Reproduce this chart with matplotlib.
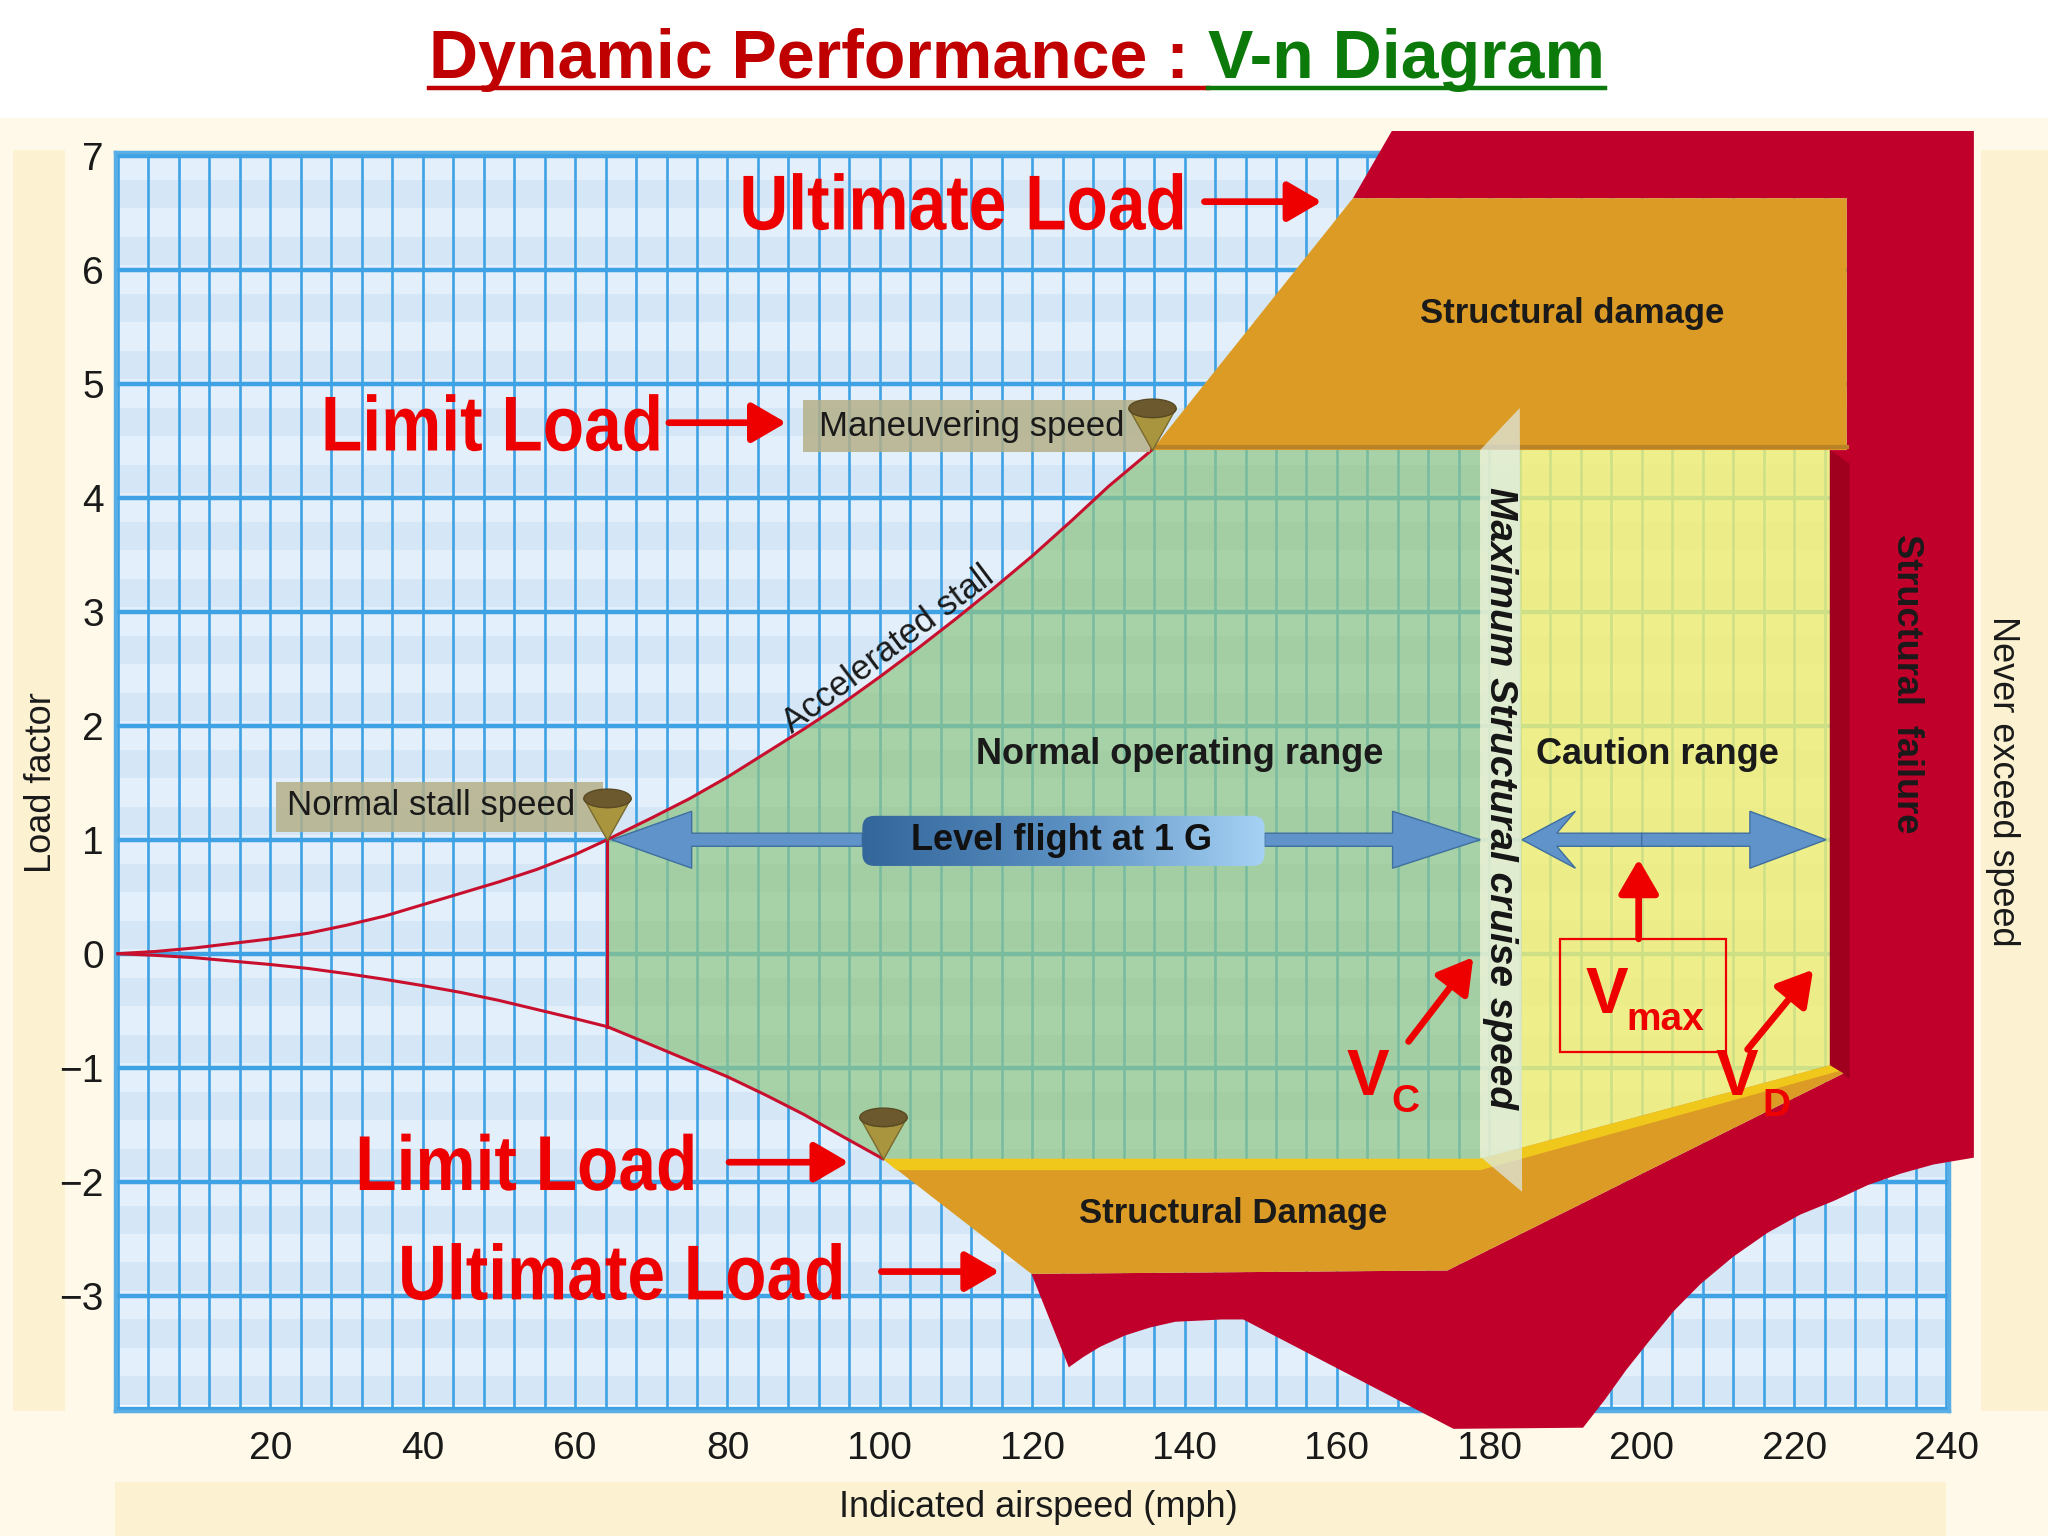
import numpy as np
import matplotlib.pyplot as plt
import matplotlib.transforms as mtransforms
from matplotlib.patches import Polygon, Rectangle, FancyBboxPatch, FancyArrow, PathPatch
from matplotlib.path import Path
from matplotlib.textpath import TextPath
from matplotlib.font_manager import FontProperties
from matplotlib.colors import LinearSegmentedColormap
from matplotlib.lines import Line2D

plt.rcParams['font.family'] = ['Liberation Sans Narrow', 'Liberation Sans', 'DejaVu Sans']

# key speeds (mph) and load factors
v_stall = 64.2      # normal stall speed
v_man = 135.7       # maneuvering speed
v_neg = 100.4       # negative limit corner
v_cruise = 178.8    # max structural cruise speed
v_bar = 184.3
v_ne = 224.7        # never exceed
n_lim_pos = 4.42
n_lim_neg = -1.80
n_ne_neg = -0.98

# stall curves
upper_v = [0, 5, 10, 15, 20, 25, 30, 35, 40, 45, 50, 55, 60, 64.2, 70, 75, 80, 85, 90,
           95, 100, 105, 110, 115, 120, 125, 130, 135.7]
upper_n = [0, 0.02, 0.05, 0.09, 0.13, 0.18, 0.25, 0.33, 0.43, 0.53, 0.63, 0.74, 0.87, 1.0,
           1.19, 1.36, 1.55, 1.76, 1.97, 2.19, 2.43, 2.68, 2.94, 3.21, 3.49, 3.79, 4.10, 4.42]
lower_v = [0, 5, 10, 15, 20, 25, 30, 35, 40, 45, 50, 55, 60, 64.2, 70, 75, 80, 85, 90, 95, 100.4]
lower_n = [0, -0.015, -0.035, -0.065, -0.095, -0.13, -0.175, -0.225, -0.28, -0.34, -0.41,
           -0.49, -0.57, -0.64, -0.80, -0.94, -1.08, -1.24, -1.41, -1.60, -1.80]

# structural damage zones
dmg_up_v = [135.7, 162.1, 226.9, 226.9]
dmg_up_n = [4.42, 6.63, 6.63, 4.42]
dmg_low_v = [100.4, 178.8, 224.7, 226.5, 174.5, 119.9]
dmg_low_n = [-1.80, -1.80, -0.98, -1.05, -2.78, -2.81]

# structural failure zone outline
fail_v = [167.2, 243.6, 243.6, 238.3, 234.0, 229.7, 225.2, 220.8, 216.5, 212.0, 207.7,
          204.3, 201.1, 198.0, 195.1, 192.3, 175.3, 147.7, 144.9, 142.0, 138.8, 135.5,
          132.2, 128.9, 126.7, 124.8, 119.9, 174.5, 226.5, 224.7, 224.7, 226.9, 226.9, 162.1]
fail_n = [7.22, 7.22, -1.79, -1.85, -1.93, -2.03, -2.17, -2.29, -2.45, -2.66, -2.90,
          -3.13, -3.39, -3.65, -3.92, -4.16, -4.17, -3.21, -3.21, -3.22, -3.23, -3.28,
          -3.35, -3.45, -3.54, -3.63, -2.81, -2.78, -1.05, -0.98, 4.42, 4.42, 6.63, 6.63]

xticks = list(range(20, 241, 20))
yticks = list(range(-3, 8))

RED = '#ee0000'
W = 1568.0
H = 1176.0

fig = plt.figure(figsize=(20.48, 15.36), dpi=100)
fig.patch.set_facecolor('white')
fig.add_artist(Rectangle((0, 0), 1, 1 - 90 / H, transform=fig.transFigure,
                         fc='#fef9e8', ec='none', zorder=-10))
for (x0, y0, w, h) in [(10, 115, 40, 965), (88, 1135, 1402, 41), (1517, 115, 51, 965)]:
    fig.add_artist(Rectangle((x0 / W, 1 - (y0 + h) / H), w / W, h / H,
                             transform=fig.transFigure, fc='#fcf2d2', ec='none', zorder=-9))

ax = fig.add_axes([88 / W, 1 - 1080 / H, 1404 / W, 964 / H])
ax.set_xlim(-0.4, 240.3)
ax.set_ylim(-4.01, 7.04)


def condensed(x, y, s, size, sx, color):
    # bold text squeezed horizontally, centred on (x, y)
    tp = TextPath((0, 0), s, size=size, prop=FontProperties(family='Liberation Sans', weight='bold'))
    bb = tp.get_extents()
    tr = (mtransforms.Affine2D().translate(-(bb.x0 + bb.x1) / 2, -(bb.y0 + bb.y1) / 2)
          .scale(sx * fig.dpi / 72, fig.dpi / 72)
          + mtransforms.ScaledTranslation(x, y, ax.transData))
    ax.add_patch(PathPatch(tp, transform=tr, fc=color, ec='none', zorder=8))


# background bands and grid
for k in range(44):
    y1 = 7.04 - k * 0.25
    ax.axhspan(y1 - 0.25, y1, color='#e3effb' if k % 2 == 0 else '#d5e6f6', lw=0, zorder=0)
ax.vlines(np.arange(0, 241, 4), -4.01, 7.04, color='#3ea2e4', lw=1.9, zorder=1)
ax.hlines(np.arange(-4, 8, 1), -0.4, 240.3, color='#3ea2e4', lw=3.2, zorder=1)

# normal operating range
up = [(v, n) for v, n in zip(upper_v, upper_n) if v >= v_stall]
lo = [(v, n) for v, n in zip(lower_v, lower_n) if v >= v_stall]
green = up + [(v_cruise, n_lim_pos), (v_cruise, n_lim_neg)] + lo[::-1]
ax.add_patch(Polygon(green, closed=True, fc='#90c685', ec='none', alpha=0.72, zorder=2))

# caution range
ax.add_patch(Polygon([(v_cruise, n_lim_pos), (v_ne, n_lim_pos), (v_ne, n_ne_neg), (v_cruise, n_lim_neg)],
                     closed=True, fc='#f2f06e', ec='none', alpha=0.8, zorder=2))

# failure, damage
ax.add_patch(Polygon(list(zip(fail_v, fail_n)), closed=True, fc='#c0002a', ec='none',
                     zorder=3, clip_on=False))
ax.add_patch(Polygon([(v_ne, n_ne_neg), (227.3, -1.1), (227.3, 4.3), (v_ne, n_lim_pos)],
                     closed=True, fc='#a0001e', ec='none', zorder=3.2))
ax.add_patch(Polygon(list(zip(dmg_up_v, dmg_up_n)), closed=True, fc='#dc9b24', ec='none', zorder=3.3))
ax.plot([v_man, 226.9], [n_lim_pos + 0.03] * 2, color='#b98226', lw=3, zorder=3.4)
ax.add_patch(Polygon(list(zip(dmg_low_v, dmg_low_n)), closed=True, fc='#dc9b24', ec='none', zorder=3.3))
ax.add_patch(Polygon([(v_neg, n_lim_neg), (v_cruise, n_lim_neg), (v_ne, n_ne_neg),
                      (v_ne + 1.2, n_ne_neg - 0.05), (v_cruise, n_lim_neg - 0.1), (v_neg + 1.8, n_lim_neg - 0.1)],
                     closed=True, fc='#f0c81c', ec='none', zorder=3.4))

# max structural cruise speed bar
ax.add_patch(Polygon([(v_cruise, n_lim_pos), (184.0, 4.79), (v_bar, -2.09), (v_cruise, -1.78)],
                     closed=True, fc='#dcecee', ec='none', alpha=0.7, zorder=4))
ax.text(181.4, 1.37, 'Maximum Structural cruise speed', rotation=270, ha='center', va='center',
        fontsize=28, fontweight='bold', fontstyle='italic', color='#151515', zorder=8)

# stall curves
ax.plot(upper_v, upper_n, color='#c8102e', lw=2.2, zorder=5)
ax.plot(lower_v, lower_n, color='#c8102e', lw=2.2, zorder=5)
ax.plot([v_stall, v_stall], [1.0, np.interp(v_stall, lower_v, lower_n)], color='#c8102e', lw=2.2, zorder=5)

# level flight arrows
arr = dict(width=0.115, head_width=0.5, length_includes_head=True, fc='#5f93c9', ec='#3f6f9f',
           lw=1, zorder=6)
ax.add_patch(FancyArrow(97.7, 1.0, 64.8 - 97.7, 0, head_length=10.5, **arr))
ax.add_patch(FancyArrow(150.5, 1.0, v_cruise - 150.5, 0, head_length=11.5, **arr))
ax.add_patch(FancyArrow(200, 1.0, v_bar - 200, 0, head_length=7, overhang=0.35, **arr))
ax.add_patch(FancyArrow(200, 1.0, 224.2 - 200, 0, head_length=10, **arr))
box = FancyBboxPatch((97.7, 0.77), 150.5 - 97.7, 0.44, boxstyle='round,pad=0,rounding_size=1.6',
                     mutation_aspect=0.067, fc='none', ec='none', zorder=6)
ax.add_patch(box)
cmap = LinearSegmentedColormap.from_list('lvl', ['#33669a', '#5a8fc2', '#a6d2f4'])
im = ax.imshow(np.linspace(0, 1, 256).reshape(1, -1), cmap=cmap, aspect='auto',
               extent=[97.7, 150.5, 0.77, 1.21], zorder=6.1)
im.set_clip_path(box)
ax.text(123.9, 0.99, 'Level flight at 1 G', ha='center', va='center', fontsize=26,
        fontweight='bold', color='#111111', zorder=8)

# speed label boxes
ax.add_patch(Rectangle((20.8, 1.07), 63.7 - 20.8, 0.44, fc='#b4b088', ec='none', alpha=0.85, zorder=6.5))
ax.add_patch(Rectangle((89.9, 4.40), 135.4 - 89.9, 0.46, fc='#b4b088', ec='none', alpha=0.85, zorder=6.5))
ax.text(41.1, 1.30, 'Normal stall speed', ha='center', va='center', fontsize=25, color='#1a1a1a', zorder=8)
ax.text(112.0, 4.63, 'Maneuvering speed', ha='center', va='center', fontsize=25, color='#1a1a1a', zorder=8)
ax.text(101.1, 2.67, 'Accelerated stall', rotation=37, ha='center', va='center', fontsize=25,
        color='#1a1a1a', zorder=8)

# cone markers
th = np.linspace(np.pi, 2 * np.pi, 24)
body = [(0, 0), (-0.46, 0.82)] + [(0.46 * np.cos(t), 0.82 + 0.18 * np.sin(t)) for t in th] + [(0, 0), (0, 1.0)]
body_codes = [Path.MOVETO] + [Path.LINETO] * (len(body) - 3) + [Path.CLOSEPOLY, Path.MOVETO]
th2 = np.linspace(0, 2 * np.pi, 40)
cap = [(0.46 * np.cos(t), 0.82 + 0.18 * np.sin(t)) for t in th2]
cone_v = [v_stall, v_man, v_neg]
cone_n = [1.0, n_lim_pos, n_lim_neg]
ax.plot(cone_v, cone_n, ls='none', marker=Path(body, body_codes), ms=74, mfc='#a8953e',
        mec='#7a6a30', mew=1, zorder=7)
ax.plot(cone_v, cone_n, ls='none', marker=Path(cap), ms=74, mfc='#6c5a2e', mec='#5a4a24',
        mew=1, zorder=7)

# zone labels
zl = dict(ha='center', va='center', fontsize=26, fontweight='bold', color='#1a1a1a', zorder=8)
ax.text(139.3, 1.75, 'Normal operating range', **zl)
ax.text(202.1, 1.75, 'Caution range', **zl)
ax.text(190.9, 5.62, 'Structural damage', fontsize=25, **{k: v for k, v in zl.items() if k != 'fontsize'})
ax.text(146.4, -2.28, 'Structural Damage', fontsize=25, **{k: v for k, v in zl.items() if k != 'fontsize'})
ax.text(234.8, 2.37, 'Structural  failure', rotation=270, **zl)

# red load annotations
red_arrow = dict(arrowstyle='-|>,head_length=0.6,head_width=0.35', lw=4.8, color=RED,
                 mutation_scale=35, shrinkA=0, shrinkB=0)
loads = [('Ultimate Load', 110.9, 6.60, 142.6, 158.0),
         ('Limit Load', 49.1, 4.66, 72.3, 87.7),
         ('Limit Load', 53.6, -1.83, 80.2, 95.9),
         ('Ultimate Load', 66.1, -2.79, 100.2, 115.7)]
for txt, tx, ty, a0, a1 in loads:
    condensed(tx, ty, txt, 56, 0.87, RED)
    ax.annotate('', xy=(a1, ty), xytext=(a0, ty), arrowprops=red_arrow, zorder=8)

# V labels
vb = dict(ha='center', va='center', fontsize=46, fontweight='bold', color=RED, zorder=8,
          family=['Liberation Sans', 'DejaVu Sans'])
vs = dict(ha='center', va='center', fontsize=28, fontweight='bold', color=RED, zorder=8,
          family=['Liberation Sans', 'DejaVu Sans'])
ax.text(164.1, -1.09, 'V', **vb)
ax.text(169.0, -1.30, 'C', **vs)
ax.text(195.4, -0.37, 'V', **vb)
ax.text(203.1, -0.58, 'max', **vs)
ax.text(212.5, -1.09, 'V', **vb)
ax.text(217.7, -1.34, 'D', **vs)
ax.add_patch(Rectangle((189.3, -0.86), 21.8, 0.99, fc='none', ec=RED, lw=1.6, zorder=8))
for (x0, y0, x1, y1) in [(169.4, -0.77, 177.9, -0.03), (199.6, 0.13, 199.6, 0.83),
                         (213.9, -0.84, 222.5, -0.14)]:
    ax.annotate('', xy=(x1, y1), xytext=(x0, y0), arrowprops=red_arrow, zorder=8)

# axes styling
ax.set_xticks(xticks)
ax.set_yticks(yticks)
ax.tick_params(length=0, labelsize=28, labelcolor='#1a1a1a')
ax.tick_params(axis='x', pad=15)
ax.tick_params(axis='y', pad=8)
for s in ax.spines.values():
    s.set_color('#5aaee6')
    s.set_linewidth(2.5)

fig.text(32 / W, 1 - 599 / H, 'Load factor', rotation=90, ha='center', va='center',
         fontsize=26, color='#1a1a1a')
fig.text(795 / W, 1 - 1154 / H, 'Indicated airspeed (mph)', ha='center', va='center',
         fontsize=26, color='#1a1a1a')
fig.text(1533 / W, 1 - 598 / H, 'Never exceed speed', rotation=270, ha='center', va='center',
         fontsize=26, color='#1a1a1a')

# title
tf = ['Liberation Sans', 'DejaVu Sans']
t2 = fig.text(925 / W, 1 - 60 / H, 'V-n Diagram', ha='left', va='baseline', fontsize=49,
              fontweight='bold', color='#0b7a0b', family=tf)
t1 = fig.text(910 / W, 1 - 60 / H, 'Dynamic Performance :', ha='right', va='baseline', fontsize=49,
              fontweight='bold', color='#c00000', family=tf)
fig.canvas.draw()
r = fig.canvas.get_renderer()
b1 = t1.get_window_extent(r).transformed(fig.transFigure.inverted())
b2 = t2.get_window_extent(r).transformed(fig.transFigure.inverted())
uy = 1 - 67 / H
fig.add_artist(Line2D([b1.x0, b2.x0], [uy, uy], color='#c00000', lw=3.2, transform=fig.transFigure))
fig.add_artist(Line2D([b2.x0, b2.x1], [uy, uy], color='#0b7a0b', lw=3.2, transform=fig.transFigure))

fig.savefig('out.png', dpi=100)
